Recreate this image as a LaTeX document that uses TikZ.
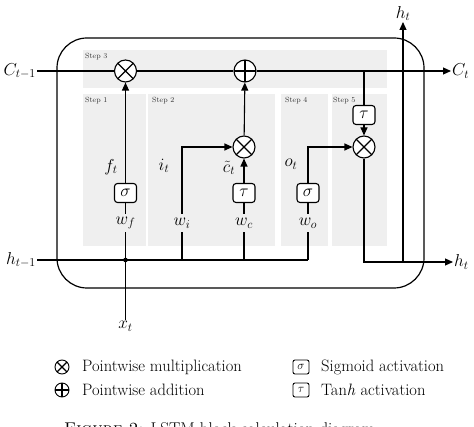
\documentclass[tikz,border=0pt]{standalone}
\usetikzlibrary{arrows.meta}
\definecolor{stepgray}{RGB}{239,239,239}
\begin{document}
\begin{tikzpicture}[x=1pt,y=-1pt,
  ln/.style={line width=1.1pt},
  arr/.style={line width=1.1pt,-{Triangle[length=8pt,width=7pt]}},
  region/.style={fill=stepgray,draw=none},
  steplab/.style={font=\fontsize{7.5}{8}\selectfont,anchor=north west,inner sep=0pt,text=black!80},
  mul/.style={circle,draw,line width=1.1pt,fill=white,minimum size=22pt,inner sep=0pt,
    path picture={\draw[line width=1.1pt] (path picture bounding box.north west)--(path picture bounding box.south east)
      (path picture bounding box.north east)--(path picture bounding box.south west);}},
  add/.style={circle,draw,line width=1.1pt,fill=white,minimum size=22pt,inner sep=0pt,
    path picture={\draw[line width=1.1pt] (path picture bounding box.north)--(path picture bounding box.south)
      (path picture bounding box.east)--(path picture bounding box.west);}},
  act/.style={draw,line width=1.1pt,fill=white,rounded corners=3pt,minimum width=22pt,minimum height=19pt,inner sep=0pt,font=\fontsize{16}{17}\selectfont},
  lab/.style={font=\fontsize{17}{19}\selectfont,inner sep=1pt},
  wlab/.style={font=\fontsize{17}{19}\selectfont,inner sep=1pt,minimum height=18pt},
  legtext/.style={font=\fontsize{16.5}{18}\selectfont,anchor=west,inner sep=0pt},
  smul/.style={mul,minimum size=14pt,line width=0.9pt},
  sadd/.style={add,minimum size=14pt,line width=0.9pt},
  sact/.style={act,minimum width=16pt,minimum height=14pt,rounded corners=2pt,line width=0.9pt,font=\fontsize{12}{13}\selectfont}
]
\useasboundingbox (0,0) rectangle (474,427);

% step regions
\fill[region] (83,50) rectangle (387,88);
\fill[region] (83,94) rectangle (146,246);
\fill[region] (148,94) rectangle (275,246);
\fill[region] (281,94) rectangle (328,246);
\fill[region] (332,94) rectangle (387,246);
\node[steplab] (s3) at (85,53) {Step 3};
\node[steplab] (s1) at (85,97) {Step 1};
\node[steplab] (s2) at (152,97) {Step 2};
\node[steplab] (s4) at (285,97) {Step 4};
\node[steplab] (s5) at (333,97) {Step 5};

% outer block
\draw[line width=1.2pt,rounded corners=30pt] (57,38) rectangle (424,288);

% operators
\node[mul] (mulF) at (125.5,71) {};
\node[add] (addC) at (245,71) {};
\node[mul] (mulI) at (244,147) {};
\node[mul] (mulO) at (364,147) {};
\node[act] (sigF) at (125.5,193) {$\sigma$};
\node[act] (tanC) at (244,193) {$\tau$};
\node[act] (sigO) at (308,193) {$\sigma$};
\node[act] (tanH) at (364,115) {$\tau$};

% weight labels
\node[wlab] (wf) at (125.5,223) {$w_f$};
\node[wlab] (wi) at (182,223) {$w_i$};
\node[wlab] (wc) at (244,223) {$w_c$};
\node[wlab] (wo) at (308,223) {$w_o$};

% coordinates
\coordinate (cin) at (37,71);
\coordinate (cout) at (451,71);
\coordinate (hin) at (37,260);
\coordinate (hend) at (308,260);
\coordinate (dotF) at (125.5,260);
\coordinate (hwi) at (182,260);
\coordinate (hwc) at (244,260);
\coordinate (xin) at (125.5,320);
\coordinate (tap) at (364,71);
\coordinate (hcorner) at (364,262);
\coordinate (hsplit) at (403,262);
\coordinate (hout) at (453,262);
\coordinate (htop) at (403,22);

% outer labels
\node[lab,anchor=east] (Cm) at (cin) {$C_{t-1}$};
\node[lab,anchor=west] (Ct) at (cout) {$C_t$};
\node[lab,anchor=east] (hm) at (hin) {$h_{t-1}$};
\node[lab,anchor=west] (ht) at (hout) {$h_t$};
\node[lab,anchor=south] (htT) at (htop) {$h_t$};
\node[lab,anchor=north] (xt) at (xin) {$x_t$};

% gate labels
\node[lab] (ft) at (111,167) {$f_t$};
\node[lab] (it) at (164,166) {$i_t$};
\node[lab] (ct) at (229,168) {$\tilde{c}_t$};
\node[lab] (ot) at (291,164) {$o_t$};

% cell state line
\draw[ln] (cin) -- (mulF);
\draw[ln] (mulF) -- (addC);
\draw[arr] (addC) -- (cout);
\draw[ln] (tap) -- (tanH);
\draw[arr] (tanH) -- (mulO);

% hidden line
\draw[ln] (hin) -- (hend);
\fill (dotF) circle (2.3pt);
\draw[ln] (dotF) -- (xin);

% forget gate
\draw[ln] (dotF) -- (wf);
\draw[ln] (wf) -- (sigF);
\draw[arr] (sigF) -- (mulF);

% input gate
\draw[ln] (hwi) -- (wi);
\draw[arr] (wi.north) |- (mulI);
\draw[ln] (hwc) -- (wc);
\draw[ln] (wc) -- (tanC);
\draw[arr] (tanC) -- (mulI);
\draw[arr] (mulI) -- (addC);

% output gate
\draw[ln] (hend) -- (wo);
\draw[ln] (wo) -- (sigO);
\draw[arr] (sigO.north) |- (mulO);
\draw[ln] (mulO) -- (hcorner) -- (hsplit);
\draw[arr] (hsplit) -- (hout);
\draw[arr] (hsplit) -- (htop);

% legend
\node[smul] (lmul) at (62,367) {};
\node[legtext] (lmult) at (82,367) {Pointwise multiplication};
\node[sadd] (ladd) at (62,390) {};
\node[legtext] (laddt) at (82,390) {Pointwise addition};
\node[sact] (lsig) at (301,367) {$\sigma$};
\node[legtext] (lsigt) at (321,367) {Sigmoid activation};
\node[sact] (ltan) at (301,390) {$\tau$};
\node[legtext] (ltant) at (321,390) {Tan\textit{h} activation};

% caption (cut off at the bottom edge, as in the reference)
\node[anchor=base west,inner sep=0pt,font=\fontsize{17}{19}\selectfont] (cap) at (64,435) {\textsc{Figure 2:} LSTM block calculation diagram.};
\end{tikzpicture}
\end{document}
